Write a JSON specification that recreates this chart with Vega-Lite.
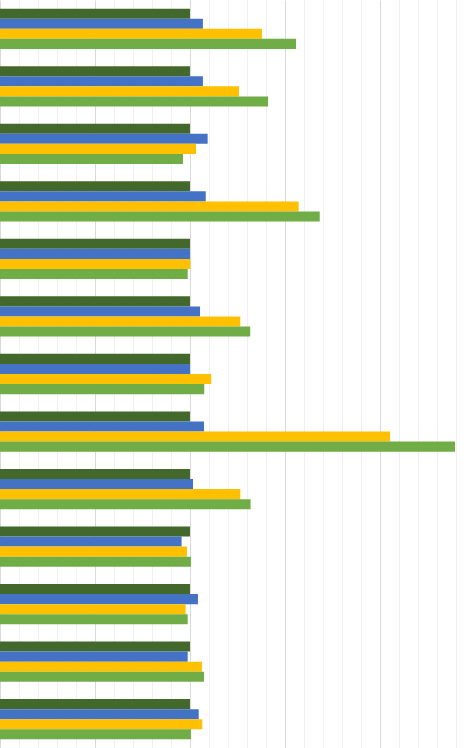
{
  "$schema": "https://vega.github.io/schema/vega-lite/v6.json",
  "width": 474,
  "height": 748,
  "padding": 0,
  "autosize": {"type": "none"},
  "background": "white",
  "config": {"view": {"stroke": null}},
  "data": {"values": [
    {"g": "G01", "s": "S1", "v": 1.0}, {"g": "G01", "s": "S2", "v": 1.068}, {"g": "G01", "s": "S3", "v": 1.379}, {"g": "G01", "s": "S4", "v": 1.558},
    {"g": "G02", "s": "S1", "v": 1.0}, {"g": "G02", "s": "S2", "v": 1.068}, {"g": "G02", "s": "S3", "v": 1.258}, {"g": "G02", "s": "S4", "v": 1.411},
    {"g": "G03", "s": "S1", "v": 1.0}, {"g": "G03", "s": "S2", "v": 1.093}, {"g": "G03", "s": "S3", "v": 1.032}, {"g": "G03", "s": "S4", "v": 0.963},
    {"g": "G04", "s": "S1", "v": 1.0}, {"g": "G04", "s": "S2", "v": 1.083}, {"g": "G04", "s": "S3", "v": 1.572}, {"g": "G04", "s": "S4", "v": 1.683},
    {"g": "G05", "s": "S1", "v": 1.0}, {"g": "G05", "s": "S2", "v": 1.0}, {"g": "G05", "s": "S3", "v": 1.002}, {"g": "G05", "s": "S4", "v": 0.988},
    {"g": "G06", "s": "S1", "v": 1.0}, {"g": "G06", "s": "S2", "v": 1.053}, {"g": "G06", "s": "S3", "v": 1.265}, {"g": "G06", "s": "S4", "v": 1.317},
    {"g": "G07", "s": "S1", "v": 1.0}, {"g": "G07", "s": "S2", "v": 1.0}, {"g": "G07", "s": "S3", "v": 1.112}, {"g": "G07", "s": "S4", "v": 1.075},
    {"g": "G08", "s": "S1", "v": 1.0}, {"g": "G08", "s": "S2", "v": 1.074}, {"g": "G08", "s": "S3", "v": 2.053}, {"g": "G08", "s": "S4", "v": 2.395},
    {"g": "G09", "s": "S1", "v": 1.0}, {"g": "G09", "s": "S2", "v": 1.016}, {"g": "G09", "s": "S3", "v": 1.265}, {"g": "G09", "s": "S4", "v": 1.319},
    {"g": "G10", "s": "S1", "v": 1.0}, {"g": "G10", "s": "S2", "v": 0.956}, {"g": "G10", "s": "S3", "v": 0.984}, {"g": "G10", "s": "S4", "v": 1.005},
    {"g": "G11", "s": "S1", "v": 1.0}, {"g": "G11", "s": "S2", "v": 1.042}, {"g": "G11", "s": "S3", "v": 0.977}, {"g": "G11", "s": "S4", "v": 0.988},
    {"g": "G12", "s": "S1", "v": 1.0}, {"g": "G12", "s": "S2", "v": 0.988}, {"g": "G12", "s": "S3", "v": 1.063}, {"g": "G12", "s": "S4", "v": 1.074},
    {"g": "G13", "s": "S1", "v": 1.0}, {"g": "G13", "s": "S2", "v": 1.046}, {"g": "G13", "s": "S3", "v": 1.065}, {"g": "G13", "s": "S4", "v": 1.005}
  ]},
  "mark": {"type": "bar"},
  "encoding": {
    "y": {"field": "g", "type": "nominal", "sort": null,
      "scale": {"paddingInner": 0.3, "paddingOuter": 0.15},
      "axis": null},
    "yOffset": {"field": "s", "type": "nominal", "sort": null, "scale": {"paddingInner": 0, "paddingOuter": 0}},
    "x": {"field": "v", "type": "quantitative",
      "scale": {"domain": [0, 2.495], "nice": false, "zero": true},
      "axis": {
        "values": [0, 0.1, 0.2, 0.3, 0.4, 0.5, 0.6, 0.7, 0.8, 0.9, 1.0, 1.1, 1.2, 1.3, 1.4, 1.5, 1.6, 1.7, 1.8, 1.9, 2.0, 2.1, 2.2, 2.3, 2.4],
        "labels": false, "ticks": false, "domain": false, "title": null,
        "grid": true, "gridWidth": 1,
        "gridColor": {"condition": {"test": "abs(datum.value*2 - round(datum.value*2)) < 0.001", "value": "#d9d9d9"}, "value": "#f0f0f0"}
      }},
    "color": {"field": "s", "type": "nominal", "sort": null, "legend": null,
      "scale": {"domain": ["S1", "S2", "S3", "S4"], "range": ["#43682B", "#4472C4", "#FFC000", "#70AD47"]}}
  }
}
